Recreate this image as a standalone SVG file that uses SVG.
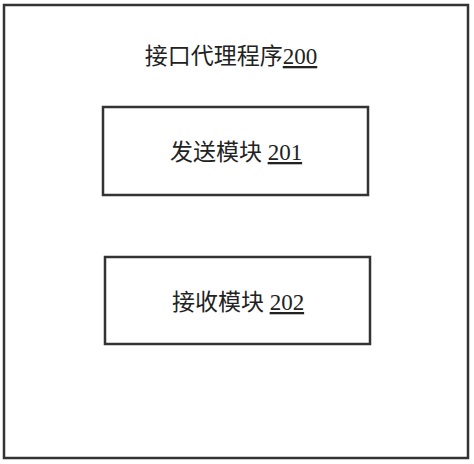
<svg xmlns="http://www.w3.org/2000/svg" width="474" height="464" viewBox="0 0 474 464">
<style>
.box{fill:#fff;stroke:#333;stroke-width:2.5}
.t{font-family:"Liberation Serif","Noto Sans CJK SC",serif;font-size:23px;fill:#222;text-anchor:middle}
.u{text-decoration:underline}
</style>
<rect width="474" height="464" fill="#fff"/>
<g id="n200">
<rect class="box" x="4" y="5" width="464" height="453"/>
<text class="t" x="231" y="64">接口代理程序<tspan class="u">200</tspan></text>
</g>
<g id="n201">
<rect class="box" x="103" y="107" width="265" height="88"/>
<text class="t" x="236" y="160">发送模块 <tspan class="u">201</tspan></text>
</g>
<g id="n202">
<rect class="box" x="105" y="257" width="265" height="87"/>
<text class="t" x="238" y="310">接收模块 <tspan class="u">202</tspan></text>
</g>
<g id="connectors"/>
</svg>
